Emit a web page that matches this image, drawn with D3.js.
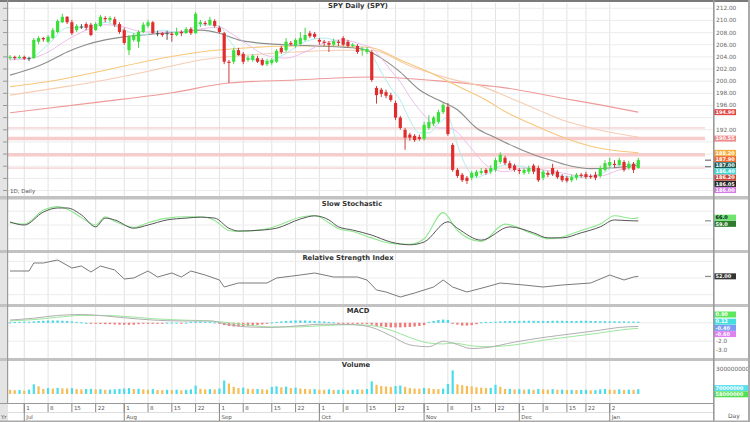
<!DOCTYPE html>
<html><head><meta charset="utf-8">
<script src="https://cdn.jsdelivr.net/npm/d3@7"></script>
<style>body{margin:0;background:#fff}svg{display:block;font-family:"DejaVu Sans",sans-serif}</style>
</head><body><svg id="c" width="750" height="422"></svg>
<script>
// ---------- DATA ----------
const opens=[203.8,204.0,203.8,204.0,203.7,203.8,206.5,207.1,206.5,207.1,
208.1,209.7,210.6,209.7,208.4,208.9,209.4,209.3,208.4,209.1,
210.4,210.1,210.2,209.4,208.4,205.1,206.8,206.5,208.1,209.1,
209.7,207.9,207.9,207.8,207.8,207.6,208.1,207.9,208.6,207.9,
209.4,209.6,209.3,209.9,208.8,207.9,203.2,203.2,205.1,204.5,
203.5,203.5,203.8,203.5,202.8,203.0,203.2,205.5,205.1,206.3,
205.8,206.1,206.8,207.9,207.8,206.8,206.5,206.3,206.0,206.5,
207.1,206.5,205.8,205.8,205.1,204.8,204.8,198.9,198.6,198.2,
197.7,196.4,194.0,192.0,191.2,191.0,190.8,190.5,192.3,193.0,
193.3,194.9,195.8,189.5,185.4,184.6,184.1,184.1,184.4,184.9,
185.4,185.1,185.4,186.7,187.4,186.5,186.1,185.4,184.9,185.1,
186.1,185.7,184.1,184.9,185.7,185.1,184.4,184.1,183.7,184.1,
184.6,184.7,184.4,184.6,184.4,185.4,186.1,186.4,186.2,186.7,
185.7,186.4,185.7];
const highs=[204.3,204.2,204.3,204.2,204.0,207.1,207.4,207.3,207.6,208.8,
210.2,211.1,210.7,210.1,209.4,209.4,209.7,209.6,209.7,210.9,
210.7,210.7,210.6,209.7,208.8,207.6,207.9,208.4,209.7,210.1,
209.9,208.3,208.1,208.3,208.1,208.8,208.4,208.9,208.9,211.4,
210.1,209.9,210.6,210.2,209.1,208.1,203.5,205.5,205.5,204.8,
204.2,204.5,204.2,203.8,203.7,203.8,205.3,205.8,207.1,206.6,
207.1,208.1,208.8,208.3,208.1,207.1,206.8,206.6,207.0,206.8,
207.4,206.8,206.3,206.1,205.6,205.6,205.1,199.2,198.9,198.6,
198.1,196.8,194.3,192.3,191.5,191.3,191.2,193.3,194.4,194.3,
195.3,196.4,196.4,189.8,185.7,184.9,184.4,185.2,185.4,185.7,
185.7,186.2,187.4,188.3,187.7,186.9,186.4,185.7,185.7,186.1,
186.4,186.1,185.4,185.2,186.4,185.4,184.7,184.4,184.6,184.9,
184.9,185.1,184.7,185.1,186.1,187.0,187.4,187.0,187.4,187.0,
186.9,186.7,187.4];
const lows=[203.5,203.5,203.7,203.5,203.3,203.7,206.1,206.5,206.3,206.9,
207.9,209.6,209.4,207.6,208.1,208.6,208.4,207.4,208.3,208.9,
209.7,209.7,208.9,207.8,206.0,204.3,206.5,205.5,207.9,208.8,
207.8,207.4,207.3,206.8,206.5,207.4,207.4,207.8,207.6,207.8,
208.9,209.1,209.1,208.8,207.9,202.8,199.7,202.8,204.2,202.8,
203.2,203.2,203.0,202.5,202.5,202.7,203.0,204.5,204.8,205.8,
205.5,206.0,206.6,207.1,207.0,206.0,205.8,204.8,205.8,205.8,
205.8,205.5,205.5,204.5,204.2,204.5,199.9,196.3,197.4,197.2,
196.6,193.6,192.0,188.7,190.2,190.0,190.2,190.2,192.0,192.6,
193.0,194.6,191.0,185.1,184.1,183.4,183.1,183.7,184.1,184.6,
184.6,184.7,185.1,186.4,186.2,185.4,185.1,184.7,184.6,184.7,
184.7,183.4,183.7,184.2,184.4,183.9,183.4,183.3,183.4,183.7,
184.1,183.9,183.9,183.7,184.1,185.2,185.7,185.7,186.1,185.1,
185.4,184.9,185.6];
const closes=[204.0,203.8,204.0,203.7,203.8,206.8,207.1,206.9,207.3,208.4,
209.9,210.6,209.7,207.9,209.1,209.0,208.8,207.6,209.4,210.6,
210.2,210.4,209.3,208.1,206.3,207.3,207.6,208.1,209.3,209.7,
207.9,207.8,207.6,207.9,207.6,208.1,207.9,208.6,207.9,211.1,
209.7,209.4,210.1,209.1,208.1,203.2,203.0,205.1,204.3,203.2,
203.8,204.2,203.2,202.7,203.3,203.5,205.0,204.8,206.5,206.1,
206.8,207.1,207.6,207.4,207.3,206.5,206.3,206.0,206.6,206.3,
206.0,205.8,206.0,204.8,205.3,205.3,200.2,197.7,197.9,197.6,
196.9,194.0,192.3,190.7,190.7,190.3,190.5,192.8,193.3,194.0,
194.9,196.1,191.3,185.4,184.4,183.7,183.6,184.9,185.1,185.2,
184.9,185.7,187.0,187.9,186.5,185.7,185.4,185.2,185.4,185.7,
185.1,183.7,185.1,184.6,184.7,184.2,183.7,183.6,184.2,184.6,
184.4,184.2,184.2,184.1,185.7,186.5,186.7,186.2,187.0,185.4,
186.4,185.4,187.0];
const volumes=[50,45,48,40,52,115,92,60,70,65,
72,68,66,70,58,55,60,62,55,58,
50,52,56,60,64,70,60,62,55,50,
58,48,46,50,48,52,45,50,55,100,
62,55,58,54,65,160,125,85,70,75,
62,58,60,55,52,85,92,80,88,70,
76,65,60,55,58,52,50,55,48,50,
52,46,50,55,52,58,150,110,95,90,
85,95,100,85,70,65,62,72,68,60,
58,64,120,280,115,105,95,90,80,75,
70,72,110,85,60,62,55,58,52,56,
50,60,55,52,58,50,52,48,50,46,
48,50,44,46,55,60,52,50,56,48,
52,50,58];
const macdHist=[0.05,0.08,0.1,0.12,0.12,
0.15,0.2,0.22,0.25,0.25,0.25,0.22,0.2,0.15,0.1,
0.05,0,
-0.05,-0.1,-0.12,-0.15,-0.15,-0.18,-0.2,-0.2,-0.22,-0.2,-0.15,-0.1,
-0.08,-0.05,-0.05,-0.03,0.02,0.03,0.02,-0.02,0.03,
0.1,0.15,0.15,0.12,0.1,0.05,
-0.1,-0.25,-0.35,-0.4,-0.4,-0.38,-0.35,-0.3,-0.25,-0.18,-0.1,
0.05,0.1,0.15,0.2,0.22,0.25,0.25,0.25,0.22,0.2,0.18,0.15,0.1,0.05,
-0.05,-0.08,-0.1,-0.1,-0.12,-0.1,-0.12,-0.2,
-0.35,-0.4,-0.45,-0.5,-0.5,-0.5,-0.48,-0.45,-0.4,-0.35,-0.25,
0.1,0.2,0.3,0.35,0.3,
-0.1,-0.2,-0.3,-0.3,-0.25,-0.15,
0.05,0.08,0.1,0.12,0.15,0.18,0.2,0.2,0.2,0.22,0.22,0.22,0.2,0.2,0.2,0.22,0.22,0.22,0.2,0.2,
0.2,0.22,0.22,0.2,0.2,0.18,0.18,0.16,0.16,0.15,0.15,0.14,0.14,0.12];

// moving averages: [bar, price]
const ma20=[[0,201.0],[5,202.2],[8,203.2],[12,204.8],[16,206.0],[20,206.8],[24,207.3],[28,207.6],[32,207.9],[36,208.1],[40,208.4],[44,207.9],[48,206.8],[52,206.3],[58,206.0],[64,205.8],[70,205.6],[74,205.3],[78,203.8],[82,201.5],[86,198.6],[90,196.9],[94,195.3],[98,192.3],[102,190.7],[106,189.2],[110,187.9],[114,186.9],[118,186.0],[122,185.6],[126,185.7],[130,186.0],[132,186.2]];
const ma50=[[0,199.1],[10,200.2],[20,201.8],[30,203.5],[40,204.8],[50,205.5],[60,205.8],[70,205.8],[76,205.5],[82,203.5],[88,201.5],[94,199.2],[100,196.9],[104,195.0],[110,192.8],[116,190.8],[122,189.3],[128,188.5],[132,188.2]];
const ma100=[[0,197.7],[10,198.9],[20,200.2],[30,201.8],[40,203.5],[50,204.3],[60,204.8],[70,205.1],[76,205.1],[84,202.5],[92,200.5],[100,198.9],[104,197.6],[110,195.6],[116,193.6],[122,192.3],[128,191.3],[132,190.8]];
const ma200=[[0,194.8],[19,196.6],[34,198.1],[46,199.7],[60,200.2],[76,200.7],[92,199.9],[104,198.9],[116,197.2],[124,196.1],[132,194.9]];
const ma5=[[0,203.8],[4,203.8],[8,206.0],[12,208.8],[16,208.9],[20,209.7],[24,208.4],[28,207.6],[32,208.4],[36,207.9],[40,209.3],[44,209.1],[46,206.8],[50,203.8],[54,203.3],[58,204.6],[62,206.5],[66,207.1],[70,206.3],[74,205.5],[76,204.3],[78,201.5],[80,198.9],[82,196.9],[84,193.6],[86,191.5],[88,191.5],[90,193.0],[92,194.0],[94,189.5],[96,185.7],[98,184.2],[100,184.7],[104,186.2],[108,185.9],[112,184.9],[116,184.4],[120,184.2],[124,184.7],[128,186.2],[132,186.4]];
const ma10=[[0,203.5],[4,203.7],[8,204.8],[12,206.8],[16,208.4],[20,209.3],[24,208.9],[28,208.1],[32,208.1],[36,208.1],[40,208.6],[44,208.9],[46,208.1],[50,206.0],[54,204.2],[58,203.8],[62,204.8],[66,206.3],[70,206.8],[74,206.0],[76,205.5],[78,203.8],[80,201.8],[82,199.9],[84,197.4],[86,195.3],[88,193.6],[90,192.3],[92,192.3],[94,191.6],[96,189.8],[98,187.9],[100,186.2],[104,185.1],[108,185.7],[112,185.4],[116,184.9],[120,184.4],[124,184.4],[128,185.4],[132,186.0]];
const levelLines=[192.3,185.7];
const levelBands=[190.55,187.9];

const stochK=[[0,56.5],[3,50],[7,78],[10,87],[12,87],[15,72],[18,46],[20,65],[22,61],[26,43],[29,50],[33,61],[37,65],[40,67],[43,65],[46,43],[48,37],[53,39],[56,43],[61,63],[64,70],[67,61],[69,46],[72,39],[76,28],[80,13],[84,7],[87,13],[92,57],[94,43],[99,17],[105,46],[110,33],[113,22],[116,22],[120,33],[124,46],[127,61],[131,59],[132,59]];
const stochD=[[0,55],[3,52],[7,82],[10,90],[12,85],[15,66],[18,50],[20,68],[22,58],[26,45],[29,55],[33,65],[37,68],[40,68],[43,60],[46,38],[48,36],[53,40],[56,48],[61,67],[64,70],[67,55],[69,42],[72,36],[76,22],[80,10],[84,8],[87,20],[91,77],[94,38],[99,14],[104,52],[110,30],[113,20],[116,24],[120,38],[124,52],[127,70],[131,64],[132,66]];
const rsi=[[0,58.4],[4,58.4],[5,68],[7,68],[10,71.6],[13,62],[15,64.4],[17,57.2],[19,64.4],[22,59.6],[24,48.8],[26,50],[29,58.4],[31,51.2],[34,56],[36,51.2],[38,58.4],[41,53.6],[44,47.6],[45,39.2],[48,44],[54,44],[56,50],[61,53.6],[64,56],[68,51.2],[73,51.2],[75,47.6],[77,35.6],[79,33.2],[82,27.2],[85,32],[89,39.2],[91,47.6],[93,39.2],[96,33.2],[100,39.2],[103,44],[108,41.6],[112,39.2],[116,41.6],[122,44],[126,53.6],[129,47.6],[131,51.2],[132,52]];
const macdLine=[[0,0.3],[5,0.5],[10,0.8],[15,0.9],[20,0.75],[24,0.55],[30,0.3],[36,0.2],[42,0.2],[46,-0.2],[50,-0.45],[55,-0.5],[60,-0.35],[66,-0.15],[72,-0.2],[76,-0.5],[80,-1.4],[84,-2.4],[88,-2.6],[91,-2.0],[93,-2.2],[97,-2.8],[100,-2.7],[106,-2.1],[112,-1.6],[118,-1.2],[124,-0.8],[128,-0.5],[132,-0.4]];
const macdSignal=[[0,0.2],[5,0.35],[10,0.6],[15,0.8],[20,0.8],[24,0.7],[30,0.45],[36,0.3],[42,0.2],[46,0.0],[50,-0.25],[55,-0.45],[60,-0.45],[66,-0.3],[72,-0.2],[76,-0.3],[80,-0.8],[84,-1.6],[88,-2.2],[91,-2.3],[93,-2.2],[97,-2.5],[100,-2.6],[106,-2.4],[112,-1.9],[118,-1.5],[124,-1.1],[128,-0.8],[132,-0.6]];

const priceTicks=[212,210,208,206,204,202,200,198,196,194,192,190,188,186,184,182];
const macdTicks=[1,-2,-3];
const tickBars=[3,8,13,18,24,29,34,39,44,49,55,60,65,70,75,81,87,92,97,102,107,112,117,121,126];
const tickDays=["1","8","15","22","1","8","15","22","1","8","15","22","1","8","15","22","1","8","15","22","1","8","15","22","2"];
const monthBars=[3,24,44,65,87,107,126];
const monthNames=["Jul","Aug","Sep","Oct","Nov","Dec","Jan"];

const priceTags=[{v:194.90,c:"#e04646"},{v:190.55,c:"#f08a8a"},{v:188.20,c:"#f5ae3c"},{v:187.90,c:"#f06a34"},{v:187.00,c:"#1d5a55"},{v:186.40,c:"#45d6d6"},{v:186.20,c:"#c8463a"},{v:186.05,c:"#222"},{v:186.00,c:"#d47be6"}];

// ---------- DRAW ----------
const svg=d3.select("#c");
const W=750,H=422,L=8,R=713;
const x=d3.scaleLinear().domain([0,132]).range([10,638.3]);
const yP=d3.scaleLinear().domain([181.1,212.87]).range([196,3]);
const yS=d3.scaleLinear().domain([0,100]).range([248,202]);
const yR=d3.scaleLinear().domain([20,80]).range([303,253]);
const yM=d3.scaleLinear().domain([-3.5,1.5]).range([355,309]);
const yV=d3.scaleLinear().domain([0,380]).range([394,362]);

svg.append("rect").attr("width",W).attr("height",H).attr("fill","#fff");
svg.append("rect").attr("x",0).attr("y",0).attr("width",L).attr("height",H).attr("fill","#e4e4e4");

const g=svg.append("g");
tickBars.forEach(b=>{g.append("line").attr("x1",x(b)).attr("x2",x(b)).attr("y1",3).attr("y2",403).attr("stroke","#e2e2e2").attr("stroke-width",1);});
priceTicks.forEach(t=>{g.append("line").attr("x1",L).attr("x2",R).attr("y1",yP(t)).attr("y2",yP(t)).attr("stroke","#ececec");});
[20,50,80].forEach(t=>g.append("line").attr("x1",L).attr("x2",R).attr("y1",yS(t)).attr("y2",yS(t)).attr("stroke","#ececec"));
[30,50,70].forEach(t=>g.append("line").attr("x1",L).attr("x2",R).attr("y1",yR(t)).attr("y2",yR(t)).attr("stroke","#ececec"));
[0,-2].forEach(t=>g.append("line").attr("x1",L).attr("x2",R).attr("y1",yM(t)).attr("y2",yM(t)).attr("stroke","#ececec"));

levelBands.forEach(v=>g.append("line").attr("x1",L).attr("x2",705).attr("y1",yP(v)).attr("y2",yP(v)).attr("stroke","#f6cccc").attr("stroke-width",3.5));
levelLines.forEach(v=>g.append("line").attr("x1",L).attr("x2",705).attr("y1",yP(v)).attr("y2",yP(v)).attr("stroke","#f3c0c0").attr("stroke-width",1));

const lineP=d3.line().x(d=>x(d[0])).y(d=>yP(d[1])).curve(d3.curveMonotoneX);
const maStyles=[[ma200,"#ef9a9a",1.1],[ma100,"#f6cdb4",1.1],[ma50,"#f7c77a",1.1],[ma20,"#8d8d8d",1.1],[ma10,"#eab8ea",0.9],[ma5,"#a6ebeb",0.9]];
maStyles.forEach(([d,c,w])=>g.append("path").attr("d",lineP(d)).attr("fill","none").attr("stroke",c).attr("stroke-width",w));

const cw=3.2;
const idx=d3.range(closes.length);
const isDoji=i=>Math.abs(closes[i]-opens[i])<0.15;
g.selectAll(".wick").data(idx).join("line")
 .attr("x1",i=>x(i)).attr("x2",i=>x(i)).attr("y1",i=>yP(highs[i])).attr("y2",i=>yP(lows[i]))
 .attr("stroke",i=>isDoji(i)?"#555":(closes[i]>opens[i]?"#4bcf4b":"#c84040")).attr("stroke-width",1);
g.selectAll(".body").data(idx).join("rect")
 .attr("x",i=>x(i)-cw/2).attr("width",cw)
 .attr("y",i=>yP(Math.max(opens[i],closes[i])))
 .attr("height",i=>Math.max(1,Math.abs(yP(opens[i])-yP(closes[i]))))
 .attr("fill",i=>isDoji(i)?"#555":(closes[i]>opens[i]?"#38e038":"#e02c2c"));

function stackTags(items,scale,gap){
  let prev=-1e9;
  items.forEach(d=>{let y=scale(d.v);if(y<prev+gap)y=prev+gap;d.py=y;prev=y;});
  return items;
}
function drawTags(items,dec,wid){
  items.forEach(d=>{
    svg.append("rect").attr("x",714).attr("y",d.py-3).attr("width",wid||22).attr("height",6).attr("fill",d.c);
    svg.append("text").attr("x",715.5).attr("y",d.py+1.8).attr("font-size",5).attr("font-weight","bold").attr("fill",d.tc||"#fff").text(d.label||d.v.toFixed(dec));
  });
}
// axis labels drawn only where no value tag covers them
function axisLabels(ticks,scale,tags,dec){
  ticks.forEach(t=>{
    const y=scale(t);
    if(tags.some(d=>Math.abs(d.py-y)<6.5))return;
    svg.append("text").attr("x",716).attr("y",y+2).attr("font-size",5.8).attr("fill","#666").text(t.toFixed(dec));
  });
}
const pTags=stackTags(priceTags,yP,6.2);
axisLabels(priceTicks,yP,pTags,2);
drawTags(pTags,2);
svg.append("line").attr("x1",705).attr("x2",711).attr("y1",yP(closes[132])).attr("y2",yP(closes[132])).attr("stroke","#555");
svg.append("line").attr("x1",705).attr("x2",711).attr("y1",yP(ma5[ma5.length-1][1])+3).attr("y2",yP(ma5[ma5.length-1][1])+3).attr("stroke","#555");

// stochastic
const lineS=d3.line().x(d=>x(d[0])).y(d=>yS(d[1])).curve(d3.curveMonotoneX);
g.append("path").attr("d",lineS(stochD)).attr("fill","none").attr("stroke","#8ee88e").attr("stroke-width",1.1);
g.append("path").attr("d",lineS(stochK)).attr("fill","none").attr("stroke","#555").attr("stroke-width",1);
drawTags(stackTags([{v:stochD[stochD.length-1][1],c:"#6ee66e",tc:"#113"},{v:stochK[stochK.length-1][1],c:"#2f7a2f"}],yS,6.2),1);
svg.append("line").attr("x1",705).attr("x2",711).attr("y1",yS(stochK[stochK.length-1][1])).attr("y2",yS(stochK[stochK.length-1][1])).attr("stroke","#777");

// RSI
const lineR=d3.line().x(d=>x(d[0])).y(d=>yR(d[1]));
g.append("path").attr("d",lineR(rsi)).attr("fill","none").attr("stroke","#7a7a7a").attr("stroke-width",1);
drawTags([{v:rsi[rsi.length-1][1],c:"#333",py:yR(rsi[rsi.length-1][1])}],2);
svg.append("line").attr("x1",705).attr("x2",711).attr("y1",yR(rsi[rsi.length-1][1])).attr("y2",yR(rsi[rsi.length-1][1])).attr("stroke","#777");

// MACD
g.selectAll(".mh").data(idx).join("rect")
 .attr("x",i=>x(i)-1.2).attr("width",2.4)
 .attr("y",i=>Math.min(yM(0),yM(macdHist[i])))
 .attr("height",i=>Math.max(1,Math.abs(yM(macdHist[i])-yM(0))))
 .attr("fill",i=>macdHist[i]>=0?"#46d8e6":"#f07878");
const lineM=d3.line().x(d=>x(d[0])).y(d=>yM(d[1])).curve(d3.curveMonotoneX);
g.append("path").attr("d",lineM(macdSignal)).attr("fill","none").attr("stroke","#9ee69e").attr("stroke-width",1);
g.append("path").attr("d",lineM(macdLine)).attr("fill","none").attr("stroke","#b0b0b0").attr("stroke-width",1);
const mTags=stackTags([{v:0.9,c:"#5ee65e"},{v:macdHist[132],c:"#45dede"},{v:-0.4,c:"#7f9cf5"},{v:-0.6,c:"#dd82ee"}],yM,6.2);
axisLabels(macdTicks,yM,mTags,1);
drawTags(mTags,2);

// Volume
g.selectAll(".vb").data(idx).join("rect")
 .attr("x",i=>x(i)-1.1).attr("width",2.2)
 .attr("y",i=>yV(volumes[i])).attr("height",i=>yV(0)-yV(volumes[i]))
 .attr("fill",i=>(i>0&&volumes[i]>volumes[i-1])?"#49dcea":"#f6bd55");
svg.append("text").attr("x",716).attr("y",yV(300)+2).attr("font-size",5.8).attr("fill","#666").text("300000000");
drawTags(stackTags([{v:70,c:"#56e0ee",label:"70000000"},{v:volumes[132],c:"#52e052",label:"58000000"}],yV,6.2),0,34);

// separators & frame
[[196,3.5],[250,3],[304,3],[358,3]].forEach(([y,h])=>svg.append("rect").attr("x",0).attr("y",y).attr("width",W).attr("height",h).attr("fill","#c2c2c2"));
svg.append("rect").attr("x",0).attr("y",0).attr("width",W).attr("height",2).attr("fill","#7a7a7a");
svg.append("rect").attr("x",R).attr("y",0).attr("width",1.6).attr("height",H).attr("fill","#9a9a9a");
svg.append("rect").attr("x",L-1).attr("y",0).attr("width",1.2).attr("height",403).attr("fill","#9a9a9a");
svg.append("rect").attr("x",W-2).attr("y",0).attr("width",2).attr("height",H).attr("fill","#aaa");
svg.append("rect").attr("x",0).attr("y",H-1.5).attr("width",W).attr("height",1.5).attr("fill","#aaa");
priceTicks.forEach(t=>svg.append("line").attr("x1",3).attr("x2",L).attr("y1",yP(t)).attr("y2",yP(t)).attr("stroke","#999"));

// date axis
svg.append("line").attr("x1",0).attr("x2",R).attr("y1",403.5).attr("y2",403.5).attr("stroke","#999");
svg.append("line").attr("x1",L).attr("x2",R).attr("y1",412.5).attr("y2",412.5).attr("stroke","#ddd");
tickBars.forEach((b,i)=>{
  svg.append("line").attr("x1",x(b)).attr("x2",x(b)).attr("y1",404).attr("y2",412).attr("stroke","#888");
  svg.append("text").attr("x",x(b)+2).attr("y",410).attr("font-size",5.5).attr("fill","#555").text(tickDays[i]);
});
monthBars.forEach((b,i)=>{
  svg.append("line").attr("x1",x(b)).attr("x2",x(b)).attr("y1",404).attr("y2",421).attr("stroke","#888");
  svg.append("text").attr("x",x(b)+2).attr("y",419).attr("font-size",5.5).attr("fill","#555").text(monthNames[i]);
});
svg.append("text").attr("x",1).attr("y",419).attr("font-size",5.5).attr("fill","#555").text("Yr");
svg.append("text").attr("x",728).attr("y",418).attr("font-size",6).attr("fill","#555").text("Day");

// titles
const title=(t,xx,yy)=>svg.append("text").attr("x",xx).attr("y",yy).attr("font-size",6.8).attr("font-weight","bold").attr("fill","#333").attr("text-anchor","middle").text(t);
title("SPY Daily (SPY)",358,8);
title("Slow Stochastic",352,206);
title("Relative Strength Index",348,260);
title("MACD",358,313);
title("Volume",356,367);
svg.append("text").attr("x",10).attr("y",193).attr("font-size",5.5).attr("fill","#555").text("1D, Daily");
</script></body></html>
